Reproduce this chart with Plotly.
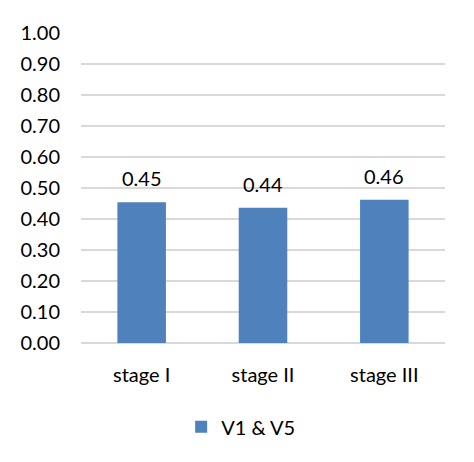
import plotly.graph_objects as go

stages = ["stage I", "stage II", "stage III"]
values = [0.454, 0.436, 0.462]
labels = ["0.45", "0.44", "0.46"]
tick_vals = [i / 10 for i in range(11)]
tick_text = [f"{v:.2f}" for v in tick_vals]

font = dict(family="Lato", size=20, color="#000000")

fig = go.Figure()
fig.add_trace(go.Bar(x=stages, y=values, name="V1 & V5",
                     marker=dict(color="#4F81BD", line=dict(width=0))))

# data labels above the bars
for s, v, t in zip(stages, values, labels):
    fig.add_annotation(x=s, y=v, text=t, showarrow=False, yanchor="bottom",
                       yshift=10, font=font)

# page body has an 8px margin, so the figure is a bit smaller than the window
fig.update_layout(width=466, height=454,
                  margin=dict(l=71, r=29, t=20, b=119),
                  paper_bgcolor="white", plot_bgcolor="white",
                  font=font, bargap=0.6, showlegend=True,
                  legend=dict(orientation="h", x=0.44, xanchor="center",
                              y=-0.27, yanchor="middle", font=font,
                              itemwidth=30))
fig.update_yaxes(range=[0, 1.0], tickvals=tick_vals, ticktext=tick_text,
                 showgrid=True, gridcolor="#D9D9D9", gridwidth=1.5,
                 zeroline=True, zerolinecolor="#D9D9D9", zerolinewidth=1.5,
                 ticklabelstandoff=20, showline=False)
fig.update_xaxes(showline=False, ticklabelstandoff=18)

fig.write_html("out.html")
